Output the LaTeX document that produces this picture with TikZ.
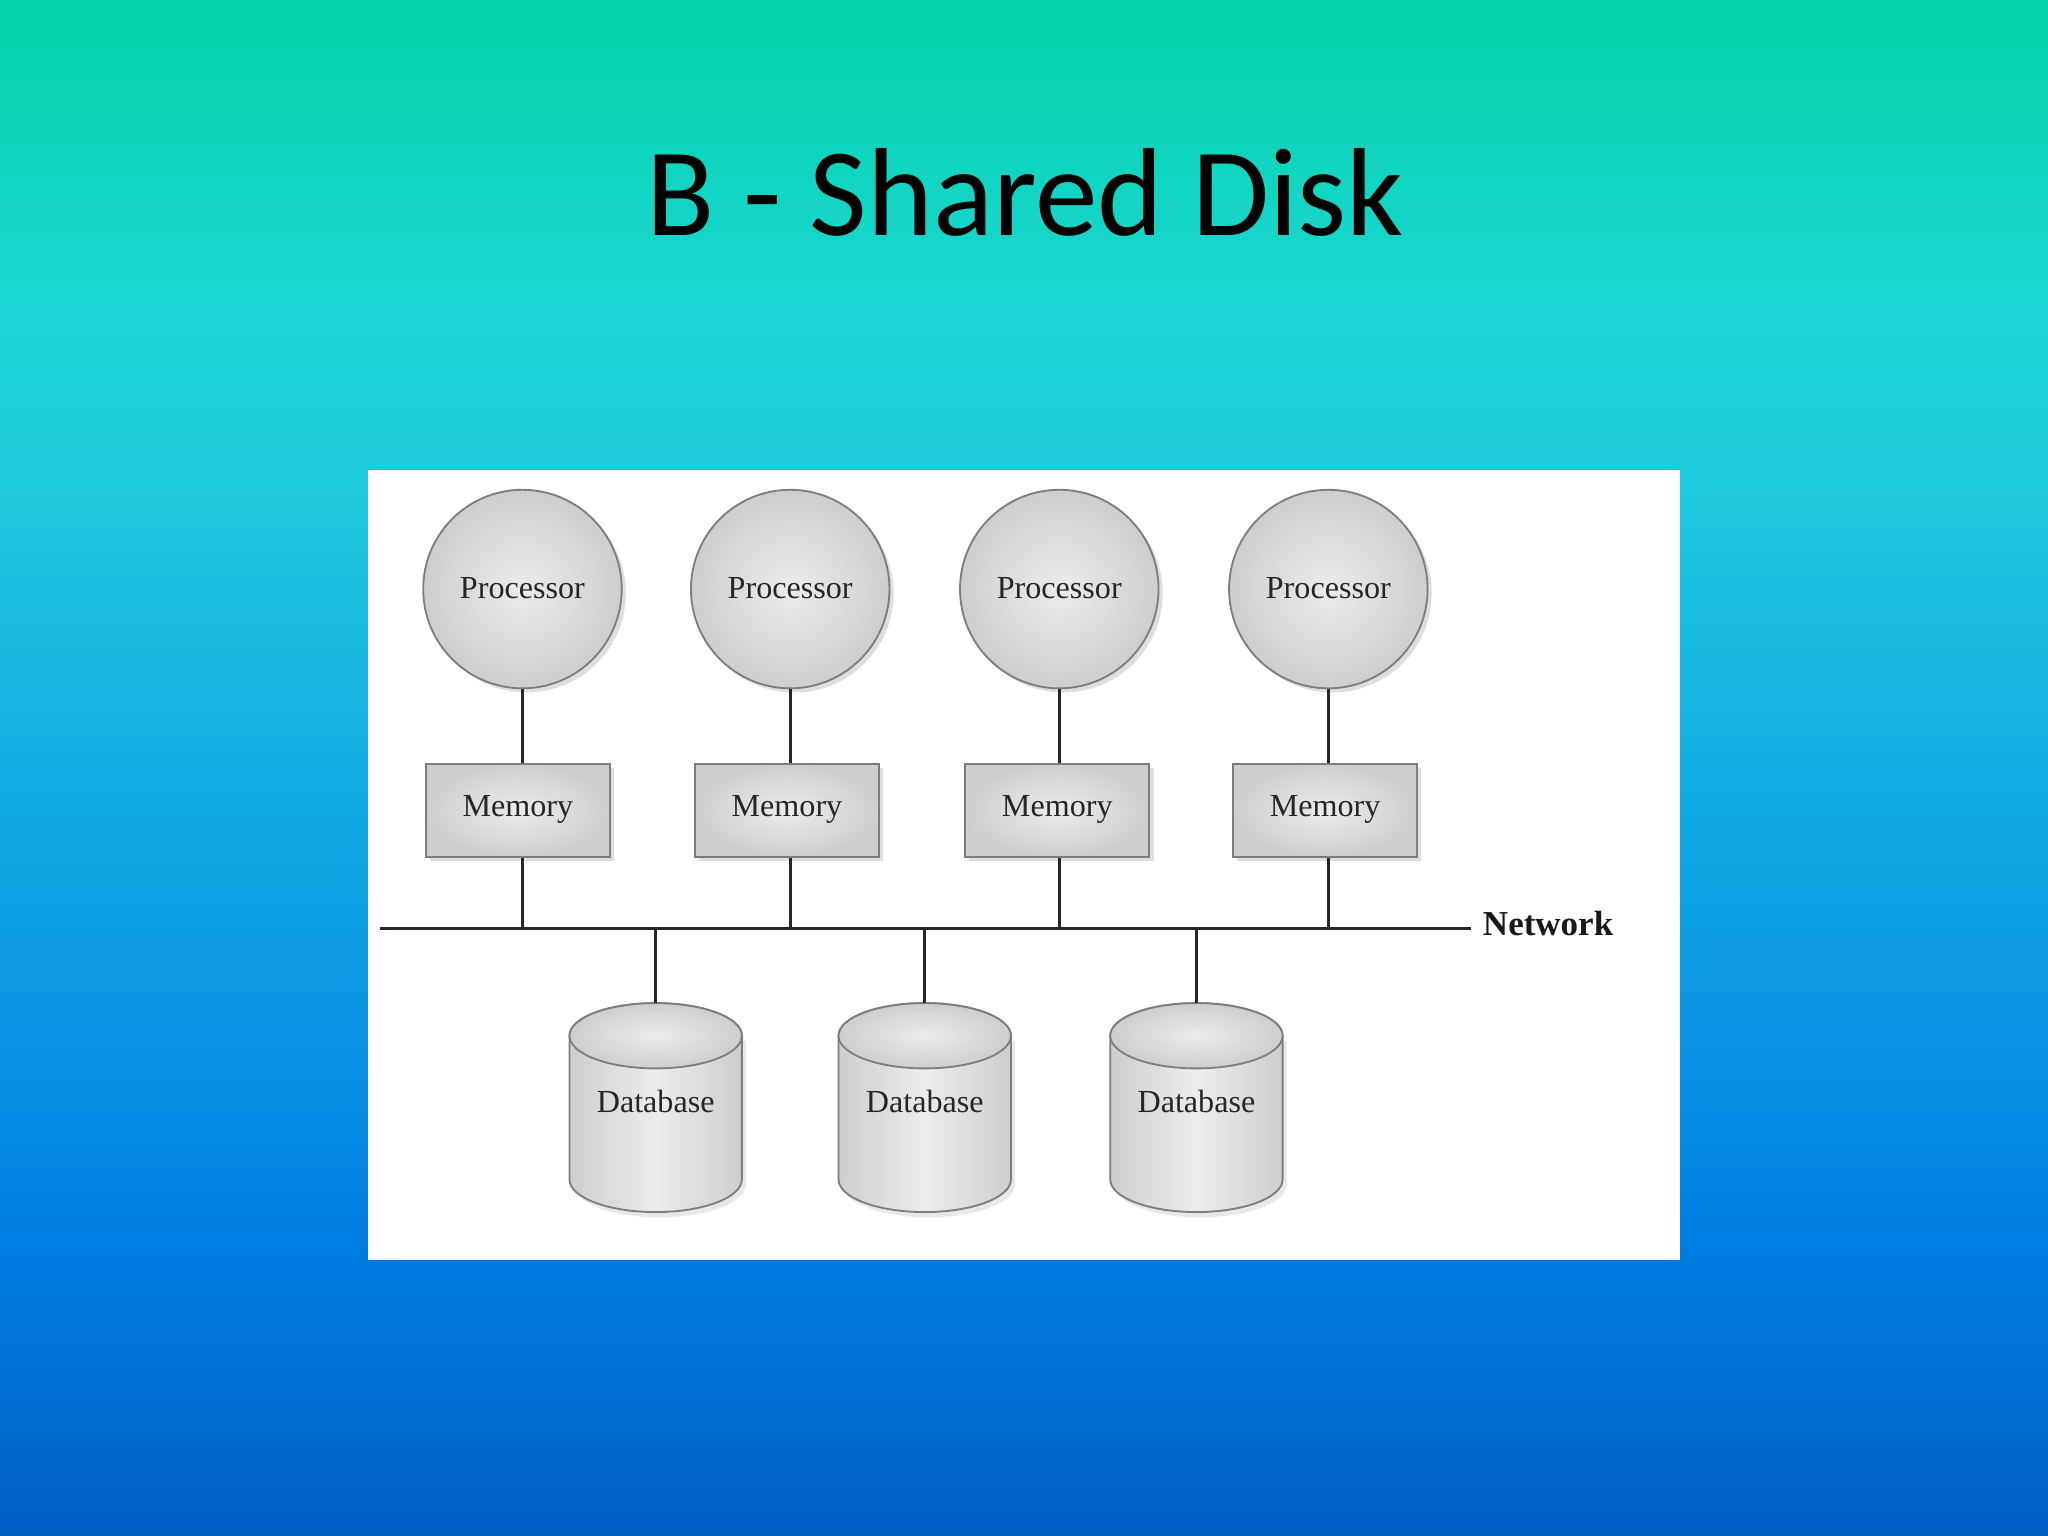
\documentclass[tikz,border=0pt]{standalone}
\usepackage{fontspec}
\setmainfont{Liberation Serif}
\newfontfamily\titlefont{Carlito}
\usetikzlibrary{shadows}
\definecolor{bg0}{RGB}{6,211,168}
\definecolor{bg1}{RGB}{26,214,210}
\definecolor{bg2}{RGB}{32,200,222}
\definecolor{bg3}{RGB}{16,170,226}
\definecolor{bg4}{RGB}{10,145,228}
\definecolor{bg5}{RGB}{0,125,225}
\definecolor{bg6}{RGB}{0,96,196}
\definecolor{shapeedge}{RGB}{125,125,125}
\definecolor{shapelight}{RGB}{236,236,236}
\definecolor{shapedark}{RGB}{206,206,206}
\pgfdeclareverticalshading{slidebg}{100bp}{color(0bp)=(bg6); color(25bp)=(bg6); color(34.3bp)=(bg5); color(40.8bp)=(bg4); color(48.9bp)=(bg3); color(58.7bp)=(bg2); color(65.2bp)=(bg1); color(75bp)=(bg0); color(100bp)=(bg0)}
\tikzset{
  softshadow/.style={drop shadow={shadow xshift=1.6pt, shadow yshift=-1.6pt, opacity=0.13, fill=black}},
  procnode/.style={circle, draw=shapeedge, line width=0.7pt, minimum size=76pt, inner sep=0pt,
    inner color=shapelight, outer color=shapedark, softshadow},
  memnode/.style={rectangle, draw=shapeedge, line width=0.7pt, minimum width=70.5pt, minimum height=35.5pt, inner sep=0pt,
    inner color=shapelight, outer color=shapedark, softshadow},
  dblabel/.style={anchor=base, font=\fontsize{12.3}{14}\selectfont, inner sep=0pt, text=black!85},
  wire/.style={draw=black!85, line width=1pt},
  dbbody/.style={draw=shapeedge, line width=0.7pt, left color=shapedark, right color=shapedark, middle color=shapelight},
  dbtop/.style={draw=shapeedge, line width=0.7pt, inner color=shapelight, outer color=shapedark},
}
\begin{document}
\begin{tikzpicture}[x=0.5pt, y=-0.5pt]
\useasboundingbox (0,0) rectangle (1568,1176);
\shade[shading=slidebg] (0,0) rectangle (1568,1176);
% title
\node[anchor=base, inner sep=0pt, font=\titlefont\fontsize{48}{58}\selectfont] (title) at (785,180) {B - Shared Disk};
% panel
\fill[white] (282,360) rectangle (1286,965);
% processors
\foreach \i/\x in {1/400, 2/605, 3/811, 4/1017} {
  \node[procnode] (p\i) at (\x,451) {};
  \node[dblabel] (pl\i) at (\x,458) {Processor};
}
% memories
\foreach \i/\x in {1/396.5, 2/602.5, 3/809.5, 4/1014.5} {
  \node[memnode] (m\i) at (\x,620.5) {};
  \node[dblabel] (ml\i) at (\x,625) {Memory};
}
% network
\coordinate (netL) at (291,711);
\coordinate (netR) at (1126,711);
\draw[wire] (netL) -- (netR);
\node[anchor=base west, inner sep=0pt, font=\bfseries\fontsize{13.4}{16}\selectfont, text=black!90] (netlabel) at (1135,716) {Network};
\foreach \i in {1,2,3,4} {
  \draw[wire] (p\i.south) -- (p\i.south |- m\i.north);
  \draw[wire] (p\i.south |- m\i.south) -- (p\i.south |- netL);
}
% databases
\foreach \i/\c in {1/502, 2/708, 3/916} {
  \fill[black, opacity=0.09] ({\c-63},797) -- ({\c-63},907) arc[start angle=180, end angle=0, x radius=66, y radius=25] -- ({\c+69},797) -- cycle;
  \shade[dbbody] ({\c-66},793) -- ({\c-66},903) arc[start angle=180, end angle=0, x radius=66, y radius=25] -- ({\c+66},793) arc[start angle=0, end angle=-180, x radius=66, y radius=25] -- cycle;
  \shade[dbtop] (\c,793) ellipse[x radius=66, y radius=25];
  \coordinate (dbtop\i) at (\c,768);
  \node[dblabel] (db\i) at (\c,852) {Database};
  \draw[wire] (dbtop\i |- netL) -- (dbtop\i);
}
\end{tikzpicture}
\end{document}
